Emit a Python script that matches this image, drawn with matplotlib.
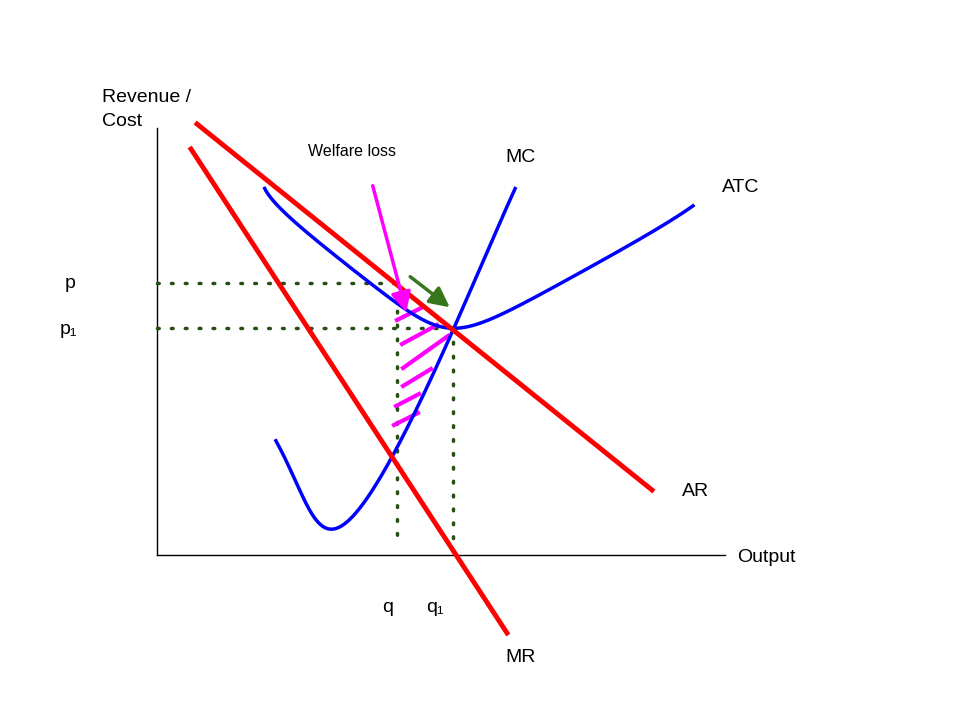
import matplotlib
matplotlib.use("Agg")
import matplotlib.pyplot as plt
import numpy as np

ar_x = [197, 652]; ar_y = [124, 490]
mr_x = [191, 507]; mr_y = [149, 633]
mc_x = [276, 300, 320, 338, 360, 393, 420, 453, 485, 515]
mc_y = [440, 495, 520, 526, 510, 458, 400, 327, 260, 188]
atc_x = [265, 300, 350, 400, 430, 460, 500, 560, 620, 694]
atc_y = [189, 225, 270, 305, 320, 327, 318, 285, 248, 206]
hatch = [((397,320),(421,308)), ((402,344),(437,325)), ((403,368),(448,336)),
         ((403,386),(431,369)), ((396,406),(419,394)), ((394,425),(418,413))]

fig = plt.figure(figsize=(9.6, 7.2), dpi=100)
ax = fig.add_axes([0, 0, 1, 1])
ax.set_xlim(0, 960); ax.set_ylim(720, 0); ax.axis("off")

ax.plot([157, 157], [128, 555], color="black", lw=1)
ax.plot([157, 725], [555, 555], color="black", lw=1)

dot = dict(color="#274e13", lw=2.5, linestyle=(0, (0.5, 3.5)), dash_capstyle="round")
ax.plot([157, 397], [283, 283], **dot)
ax.plot([157, 453], [328, 328], **dot)
ax.plot([397, 397], [283, 545], **dot)
ax.plot([453, 453], [328, 555], **dot)

for (x0, y0), (x1, y1) in hatch:
    ax.plot([x0, x1], [y0, y1], color="#ff00ff", lw=3)

xs = np.linspace(mc_x[0], mc_x[-1], 200)
from matplotlib.path import Path
ax.plot(mc_x, mc_y, color="none")
# smooth curves via quadratic fit on param
def smooth(x, y):
    t = np.linspace(0, 1, len(x)); tt = np.linspace(0, 1, 300)
    from numpy.polynomial import polynomial as P
    cx = np.polyfit(t, x, 5); cy = np.polyfit(t, y, 5)
    return np.polyval(cx, tt), np.polyval(cy, tt)
sx, sy = smooth(mc_x, mc_y)
ax.plot(sx, sy, color="#0000ff", lw=2.5)
sx, sy = smooth(atc_x, atc_y)
ax.plot(sx, sy, color="#0000ff", lw=2.5)
ax.plot(ar_x, ar_y, color="#ff0000", lw=3.5)
ax.plot(mr_x, mr_y, color="#ff0000", lw=3.5)

ax.annotate("", xy=(407, 315), xytext=(372, 183),
            arrowprops=dict(arrowstyle="-|>,head_length=1.2,head_width=0.6", color="#ff00ff", lw=2.5))
ax.annotate("", xy=(452, 309), xytext=(408, 275),
            arrowprops=dict(arrowstyle="-|>,head_length=1.2,head_width=0.6", color="#38761d", lw=2.5))

fs = 14
ax.text(102, 97, "Revenue /", fontsize=fs, va="center", family="Liberation Sans")
ax.text(102, 122, "Cost", fontsize=fs, va="center", family="Liberation Sans")
ax.text(308, 152, "Welfare loss", fontsize=11.5, va="center", family="Liberation Sans")
ax.text(505, 158, "MC", fontsize=fs, va="center", family="Liberation Sans")
ax.text(722, 187, "ATC", fontsize=fs, va="center", family="Liberation Sans")
ax.text(682, 492, "AR", fontsize=fs, va="center", family="Liberation Sans")
ax.text(737, 557, "Output", fontsize=fs, va="center", family="Liberation Sans")
ax.text(505, 658, "MR", fontsize=fs, va="center", family="Liberation Sans")
ax.text(65, 284, "p", fontsize=fs, va="center", family="Liberation Sans")
ax.text(60, 330, "p₁", fontsize=fs, va="center", family=["Liberation Sans", "DejaVu Sans"])
ax.text(382, 607, "q", fontsize=fs, va="center", family="Liberation Sans")
ax.text(426, 607, "q₁", fontsize=fs, va="center", family=["Liberation Sans", "DejaVu Sans"])

fig.savefig("out.png", dpi=100)
